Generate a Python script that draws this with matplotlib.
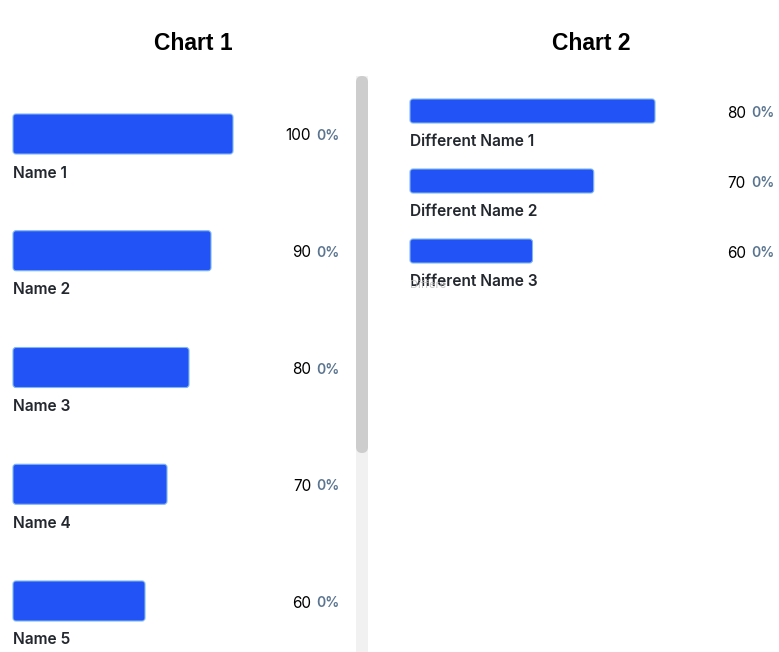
import matplotlib
matplotlib.use("Agg")
import matplotlib.pyplot as plt
from matplotlib.patches import FancyBboxPatch
import matplotlib.transforms as mtransforms

W, H = 779, 652

# data
names1 = ["Name 1", "Name 2", "Name 3", "Name 4", "Name 5"]
values1 = [100, 90, 80, 70, 60]
names2 = ["Different Name 1", "Different Name 2", "Different Name 3"]
values2 = [80, 70, 60]
pcts1 = ["0%", "0%", "0%", "0%", "0%"]
pcts2 = ["0%", "0%", "0%"]

bar_color = "#2253f7"
edge_color = "#7fb6f0"
label_color = "#23272e"
pct_color = "#5b7590"

fig = plt.figure(figsize=(W / 100, H / 100), dpi=100)
fig.patch.set_facecolor("white")


def px_axes(x0, y0, x1, y1):
    # pixel box (top-left origin) -> axes
    return fig.add_axes([x0 / W, 1 - y1 / H, (x1 - x0) / W, (y1 - y0) / H])


def draw_chart(ax, names, values, pcts, xlim, row0, step, bar_h, lab_off, val_x, pct_x):
    x_px = ax.get_position().width * W
    xunit = (xlim[1] - xlim[0]) / x_px
    top, bot = 76, 652
    ylim = ((bot - row0) / step, (top - row0) / step)
    ax.set_xlim(*xlim)
    ax.set_ylim(*ylim)
    ax.axis("off")
    h = bar_h / step
    bars = ax.barh(range(len(values)), [v - xlim[0] for v in values], left=xlim[0], height=h)
    for b in bars:
        b.set_visible(False)
        p = FancyBboxPatch((b.get_x(), b.get_y()), b.get_width(), b.get_height(),
                           boxstyle="round,pad=0,rounding_size=%f" % (3 * xunit),
                           mutation_aspect=(1 / step) / xunit,
                           facecolor=bar_color, edgecolor=edge_color, linewidth=0.8,
                           clip_on=False)
        ax.add_patch(p)
    tr = mtransforms.blended_transform_factory(fig.transFigure, ax.transData)
    dy = 2 / step
    for i, (n, v, pc) in enumerate(zip(names, values, pcts)):
        ax.text(xlim[0], i + lab_off / step, n, ha="left", va="center",
                fontsize=11.2, fontweight="semibold", color=label_color,
                family="Inter", clip_on=False)
        ax.text(val_x / W, i + dy, str(v), transform=tr, ha="right", va="center",
                fontsize=11, color="black", family="Inter")
        ax.text(pct_x / W, i + dy, pc, transform=tr, ha="left", va="center",
                fontsize=10, fontweight="semibold", color=pct_color, family="Inter")


ax1 = px_axes(13, 76, 233, 652)
draw_chart(ax1, names1, values1, pcts1, (0, 100), 134, 116.75, 40, 39, 311, 316)

ax2 = px_axes(410, 76, 655, 652)
draw_chart(ax2, names2, values2, pcts2, (40, 80), 111, 70, 24, 30, 746, 751)

# stray faded text under the last label of chart 2
fig.text(410 / W, 1 - 285 / H, "Differe", fontsize=8, color="#b8b8b8", alpha=0.8,
         ha="left", va="center", family="Inter")

fig.text(193 / W, 1 - 43 / H, "Chart 1", ha="center", va="center",
         fontsize=16.5, fontweight="bold", family="Liberation Sans")
fig.text(591 / W, 1 - 43 / H, "Chart 2", ha="center", va="center",
         fontsize=16.5, fontweight="bold", family="Liberation Sans")

# scrollbar of chart 1
track = FancyBboxPatch((356 / W, 0), 12 / W, (H - 76) / H, boxstyle="square,pad=0",
                       transform=fig.transFigure, facecolor="#f1f1f1", edgecolor="none")
thumb = FancyBboxPatch((356 / W, 1 - 453 / H), 12 / W, (453 - 76) / H,
                       boxstyle="round,pad=0,rounding_size=%f" % (6 / W),
                       mutation_aspect=W / H,
                       transform=fig.transFigure, facecolor="#cdcdcd", edgecolor="none")
fig.patches.extend([track, thumb])

fig.savefig("out.png", dpi=100, facecolor="white")
